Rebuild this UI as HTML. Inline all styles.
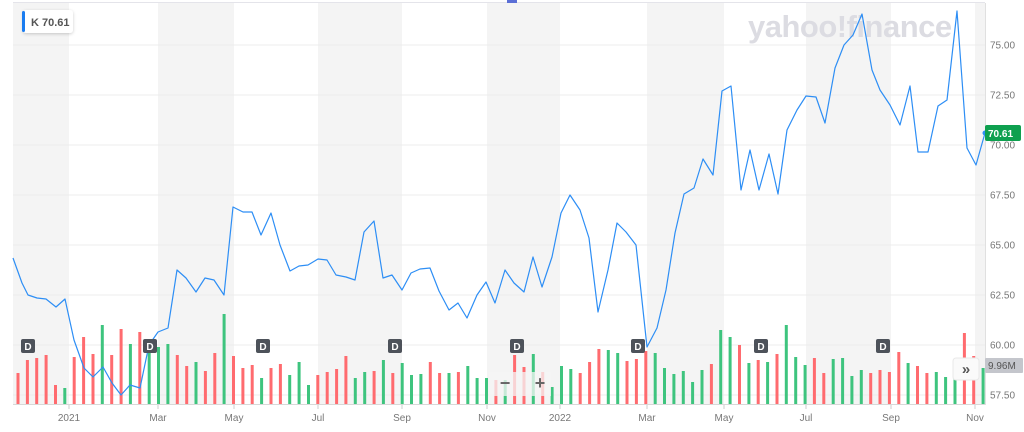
<!DOCTYPE html>
<html><head><meta charset="utf-8"><style>
html,body{margin:0;padding:0;background:#fff;width:1024px;height:432px;overflow:hidden;font-family:"Liberation Sans",sans-serif}
svg{display:block}
</style></head><body>
<svg id="s" width="1024" height="432" xmlns="http://www.w3.org/2000/svg" font-family="Liberation Sans, sans-serif"></svg>
<script>
var s=document.getElementById('s');var h='';
function r(x,y,w,hh,f,extra){h+='<rect x="'+x+'" y="'+y+'" width="'+w+'" height="'+hh+'" fill="'+f+'" '+(extra||'')+'/>';}
var b=[13,69,158,234,318,402,487,560,647,724,806,891,975,985];
for(var i=0;i<b.length-1;i+=2){r(b[i],3,b[i+1]-b[i],401,'#f4f4f4');}
for(var p=75;p>=57.5;p-=2.5){var y=1545-20*p;h+='<line x1="13" x2="985" y1="'+y+'" y2="'+y+'" stroke="#ececec" stroke-width="1"/>';}
h+='<line x1="13" x2="985" y1="2.5" y2="2.5" stroke="#e4e4ea"/>';
h+='<line x1="985.5" x2="985.5" y1="3" y2="405" stroke="#e0e0e0"/>';
h+='<line x1="13" x2="985" y1="404.5" y2="404.5" stroke="#d8d8d8"/>';
h+='<text x="748" y="37" font-size="31" font-weight="bold" fill="#dcdce2" letter-spacing="-0.5">yahoo!finance</text>';
var v=[[373,'r'],[360,'r'],[358,'r'],[355,'r'],[385,'r'],[388,'g'],[357,'r'],[337,'r'],[354,'r'],[325,'g'],[355,'r'],[329,'r'],[344,'g'],[332,'r'],[352,'g'],[347,'g'],[344,'g'],[355,'r'],[366,'r'],[362,'g'],[371,'r'],[353,'r'],[314,'g'],[356,'r'],[368,'r'],[365,'r'],[378,'g'],[368,'r'],[364,'r'],[375,'g'],[362,'g'],[385,'g'],[375,'r'],[372,'r'],[369,'r'],[356,'r'],[378,'g'],[372,'g'],[371,'r'],[360,'g'],[373,'r'],[363,'g'],[375,'g'],[374,'g'],[362,'r'],[373,'r'],[373,'g'],[372,'r'],[366,'g'],[378,'g'],
[378,'g'],[380,'r'],[380,'g'],[355,'r'],[367,'r'],[354,'g'],[372,'r'],[387,'g'],[366,'g'],[369,'g'],[373,'r'],[362,'r'],[349,'r'],[350,'g'],[353,'g'],[361,'r'],[359,'r'],[351,'r'],[353,'g'],[368,'g'],[374,'g'],
[371,'g'],[382,'g'],[370,'g'],[364,'r'],[330,'g'],[337,'g'],[345,'r'],[363,'g'],[360,'r'],[362,'g'],[354,'r'],[325,'g'],[357,'g'],[365,'g'],[358,'r'],[373,'r'],[359,'g'],[358,'g'],[376,'g'],[370,'g'],[373,'r'],[370,'r'],[372,'r'],[352,'r'],[363,'g'],[366,'r'],[373,'r'],[372,'g'],[377,'g'],[378,'g'],[333,'r'],[356,'r'],[368,'g']];
for(var i=0;i<v.length;i++){var x=18+i*9.37;r((x-1.5).toFixed(1),v[i][0],3,404-v[i][0],v[i][1]=='r'?'#ff6b6f':'#3ec47e');}
var pts=[[13,258],[22,283],[28,295],[37,298],[46,299],[56,307],[65,299],[74,340],[84,368],[93,377],[103,367],[112,383],[121,395],[130,385],[140,388],[149,345],[158,332],[168,328],[177,270],[186,278],[196,292],[205,278],[214,280],[224,295],[233,207],[243,212],[252,212],[261,235],[271,213],[280,245],[290,271],[299,266],[308,265],[318,259],[327,260],[336,275],[346,277],[355,280],[364,232],[374,221],[383,278],[392,275],[402,290],[411,273],[420,269],[430,268],[439,291],[449,310],[458,303],[467,318],[477,295],[486,282],[495,303],[505,270],[514,283],[524,292],[533,257],[542,287],[552,257],[561,213],[570,195],[580,210],[589,238],[598,312],[608,270],[617,223],[626,232],[636,245],
[647,347],[657,328],[666,290],[675,233],[684,194],[694,188],[703,159],[713,175],[722,91],[731,86],[741,190],[750,150],[759,190],[769,154],[778,194],[787,130],[797,110],[806,96],[816,97],[825,123],[835,68],[844,45],[853,35],[862,14],[872,70],[880,90],[890,105],[900,125],[910,86],[918,152],[928,152],[938,106],[947,100],[957,11],[967,148],[976,165],[985,133]];
h+='<polyline fill="none" stroke="#2d8ef5" stroke-width="1.2" stroke-linejoin="round" points="'+pts.map(function(p){return p.join(',')}).join(' ')+'"/>';
h+='<circle cx="985" cy="133" r="2.5" fill="#2d8ef5"/>';
[28,150,263,395,517,638,761,883].forEach(function(x){r(x-7,339,14,14,'#4d525a','rx="2"');h+='<text x="'+x+'" y="350" font-size="10" font-weight="bold" fill="#fff" text-anchor="middle">D</text>';});
[['2021',69],['Mar',158],['May',234],['Jul',318],['Sep',402],['Nov',487],['2022',560],['Mar',647],['May',724],['Jul',806],['Sep',891],['Nov',975]].forEach(function(l){h+='<line x1="'+l[1]+'" x2="'+l[1]+'" y1="405" y2="409" stroke="#ccc"/><text x="'+l[1]+'" y="421" font-size="10" fill="#777" text-anchor="middle">'+l[0]+'</text>';});
for(var p=75;p>=57.5;p-=2.5){var y=1545-20*p;h+='<text x="990" y="'+(y+3.5)+'" font-size="10" fill="#777">'+p.toFixed(2)+'</text>';}
r(985,125,36,16,'#0ea04f','rx="2"');h+='<text x="988" y="137" font-size="10" font-weight="bold" fill="#fff">70.61</text>';
r(985,358,38,15,'#c4c6cc','rx="1"');h+='<text x="988" y="369" font-size="10" fill="#555">9.96M</text>';
r(23,10,50,23,'#fff','rx="3" filter="url(#sh)"');r(22,11,3,21,'#1a7cf0','rx="1.5"');
h+='<text x="31" y="26" font-size="11" font-weight="bold" fill="#555">K</text><text x="42" y="26" font-size="11" font-weight="bold" fill="#555">70.61</text>';
r(489,372,62,24,'rgba(245,245,245,0.75)');
h+='<text x="505" y="389" font-size="18" font-weight="bold" fill="#666" text-anchor="middle">−</text><text x="540" y="389" font-size="18" font-weight="bold" fill="#666" text-anchor="middle">+</text>';
r(953,358,26,22,'#fafafa','rx="3" stroke="#e8e8e8"');h+='<text x="966" y="374" font-size="15" font-weight="bold" fill="#555" text-anchor="middle">»</text>';
r(507,0,10,3,'#5b6fd6');
h='<defs><filter id="sh" x="-20%" y="-30%" width="140%" height="160%"><feDropShadow dx="0" dy="1" stdDeviation="1.5" flood-opacity="0.2"/></filter></defs>'+h;
s.innerHTML=h;
</script>
</body></html>
